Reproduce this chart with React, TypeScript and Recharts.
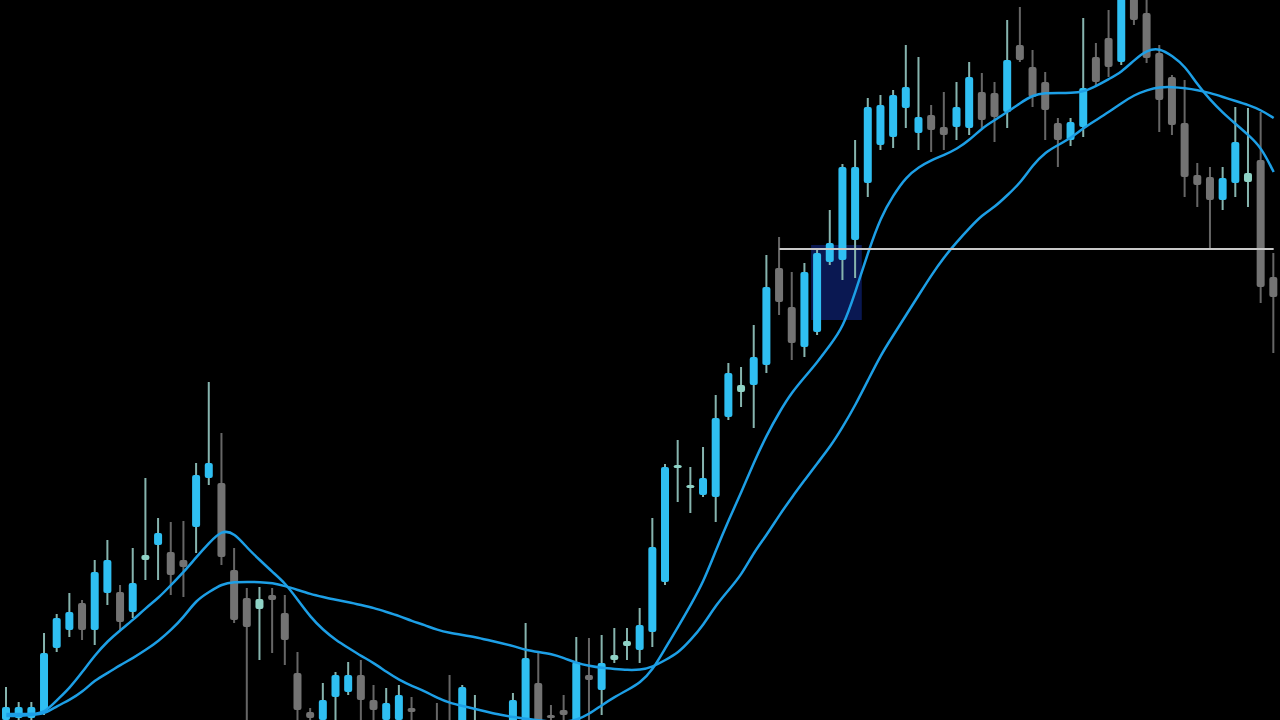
import React from 'react';
import {
  ComposedChart,
  Bar,
  Line,
  XAxis,
  YAxis,
  ReferenceLine,
  ReferenceArea
} from 'recharts';

// prices (arbitrary units, one per candle)
const opens = [
  0, 2, 2, 7, 72, 90, 117, 90, 127, 128,
  108, 160, 175, 168, 160, 193, 242, 237, 150, 122,
  111, 125, 107, 47, 8, 0, 23, 28, 45, 20,
  0, 0, 12, -10, -5, -3, -10, -5, -10, -15,
  -10, -5, 37, 5, 10, -5, 45, 30, 60, 74,
  70, 88, 138, 252, 232, 225, 223, 303, 328, 335,
  355, 452, 413, 373, 388, 458, 460, 480, 537, 575,
  583, 612, 587, 605, 593, 593, 592, 628, 627, 608,
  675, 653, 638, 597, 580, 593, 663, 682, 658, 730,
  707, 667, 643, 597, 545, 543, 520, 537, 538, 560,
  443
];

const closes = [
  13, 13, 13, 67, 102, 108, 90, 148, 160, 98,
  137, 165, 187, 145, 153, 245, 257, 163, 100, 93,
  121, 120, 80, 10, 2, 20, 45, 45, 20, 10,
  17, 25, 8, -5, -8, -8, 33, -2, -15, -10,
  20, 62, -5, 2, 5, 58, 40, 57, 65, 79,
  95, 173, 253, 255, 235, 242, 302, 347, 335, 363,
  433, 418, 377, 448, 467, 477, 553, 553, 613, 615,
  625, 633, 603, 590, 585, 613, 643, 600, 603, 660,
  660, 623, 610, 580, 598, 632, 638, 653, 725, 700,
  662, 620, 595, 543, 535, 520, 542, 578, 547, 433,
  423
];

const highs = [
  33, 18, 18, 87, 106, 127, 120, 160, 180, 135,
  172, 242, 202, 198, 199, 257, 338, 287, 172, 132,
  133, 132, 125, 68, 12, 37, 48, 58, 60, 35,
  32, 35, 23, -2, 17, 45, 35, 25, -5, -5,
  27, 97, 67, 15, 25, 83, 82, 85, 92, 92,
  112, 202, 256, 280, 253, 273, 325, 357, 353, 395,
  465, 483, 448, 457, 470, 510, 556, 580, 622, 625,
  630, 675, 663, 615, 628, 638, 658, 647, 638, 700,
  713, 670, 648, 602, 602, 702, 677, 710, 740, 740,
  725, 675, 645, 640, 557, 553, 553, 613, 612, 608,
  467
];

const lows = [
  -2, 0, 0, 5, 68, 83, 80, 75, 115, 90,
  102, 140, 140, 125, 123, 167, 235, 155, 97, -10,
  60, 67, 55, -5, -5, -5, -5, 25, -5, -5,
  -5, -5, -5, -20, -20, -20, -15, -15, -25, -25,
  -15, -10, -10, -10, -10, -10, -5, 5, 57, 60,
  57, 73, 135, 218, 207, 223, 198, 300, 313, 292,
  347, 405, 360, 363, 385, 455, 440, 442, 523, 570,
  572, 592, 570, 568, 570, 580, 585, 592, 578, 592,
  658, 613, 580, 553, 574, 583, 635, 643, 655, 695,
  657, 588, 585, 523, 513, 472, 510, 523, 513, 417,
  367
];

const fastMA = [
  6, 6, 6, 7, 20, 32, 48, 65, 79, 90,
  100, 112, 122, 135, 148, 163, 177, 190, 187, 172,
  160, 148, 137, 120, 103, 90, 80, 72, 64, 57,
  48, 40, 34, 29, 22, 17, 14, 11, 8, 5,
  3, 1, 0, -2, -2, 0, 6, 15, 23, 30,
  37, 50, 72, 93, 115, 138, 170, 200, 228, 258,
  285, 308, 328, 343, 358, 375, 392, 428, 468, 503,
  525, 543, 553, 560, 565, 571, 580, 592, 600, 608,
  617, 625, 627, 627, 627, 628, 634, 641, 648, 660,
  670, 672, 664, 654, 635, 620, 607, 596, 585, 573,
  548
];

const slowMA = [
  4, 4, 5, 6, 14, 20, 28, 40, 47, 55,
  62, 70, 79, 90, 103, 120, 128, 136, 138, 138,
  138, 137, 134, 130, 126, 123, 120, 118, 115, 112,
  108, 104, 99, 95, 90, 87, 85, 83, 80, 77,
  74, 70, 68, 66, 62, 57, 54, 52, 51, 50,
  50, 53, 60, 67, 80, 95, 115, 130, 145, 168,
  185, 205, 223, 240, 257, 273, 293, 315, 340, 365,
  385, 405, 425, 445, 463, 478, 492, 505, 513, 525,
  537, 555, 568, 575, 582, 592, 600, 608, 617, 625,
  630, 633, 633, 632, 630, 627, 623, 619, 615, 610,
  602
];

const levelPrice = 471;

const data = opens.map((o, i) => ({
  i,
  o,
  c: closes[i],
  h: highs[i],
  l: lows[i],
  fast: fastMA[i],
  slow: slowMA[i]
}));

const Candle = (props: any) => {
  const { x, y, width, height, payload } = props;
  if (x == null || y == null) return null;
  const { o, c, h, l } = payload;
  const top = Math.min(y, y + height);
  const bottom = Math.max(y, y + height);
  const span = h - l || 1;
  const toPx = (v: number) => top + ((h - v) / span) * (bottom - top);
  const up = c >= o;
  const doji = up && c - o < 11;
  const body = doji ? '#8fd3c6' : up ? '#2fbff2' : '#737373';
  const wick = up ? '#86b4ae' : '#666666';
  const cx = x + width / 2;
  const bTop = toPx(Math.max(o, c));
  const bBot = toPx(Math.min(o, c));
  return (
    <g>
      <rect x={cx - 1} y={top} width={2} height={bottom - top} fill={wick} />
      <rect
        x={x}
        y={bTop}
        width={width}
        height={Math.max(bBot - bTop, 3)}
        rx={2}
        fill={body}
      />
    </g>
  );
};

export default function App() {
  return (
    <div
      style={{
        position: 'absolute',
        left: 0,
        top: 0,
        width: 1280,
        height: 720,
        background: '#000',
        overflow: 'hidden'
      }}
    >
      <ComposedChart
        width={1280}
        height={720}
        data={data}
        margin={{ top: 0, right: 0, left: 0, bottom: 0 }}
      >
        <XAxis dataKey="i" hide tick={false} />
        <YAxis hide tick={false} domain={[0, 720]} allowDataOverflow />
        <ReferenceArea
          x1={64}
          x2={67}
          y1={400}
          y2={475}
          fill="#0c1c60"
          fillOpacity={0.85}
          ifOverflow="visible"
        />
        <Bar
          dataKey={(d: any) => [d.l, d.h]}
          barSize={8}
          shape={<Candle />}
          isAnimationActive={false}
        />
        <Line
          type="basis"
          dataKey="slow"
          stroke="#1d9fe6"
          strokeWidth={2.5}
          dot={false}
          activeDot={false}
          isAnimationActive={false}
        />
        <Line
          type="basis"
          dataKey="fast"
          stroke="#1d9fe6"
          strokeWidth={2.5}
          dot={false}
          activeDot={false}
          isAnimationActive={false}
        />
        <ReferenceLine
          segment={[
            { x: 61, y: levelPrice },
            { x: 100, y: levelPrice }
          ]}
          stroke="#c8c8c8"
          strokeWidth={2}
        />
      </ComposedChart>
    </div>
  );
}
